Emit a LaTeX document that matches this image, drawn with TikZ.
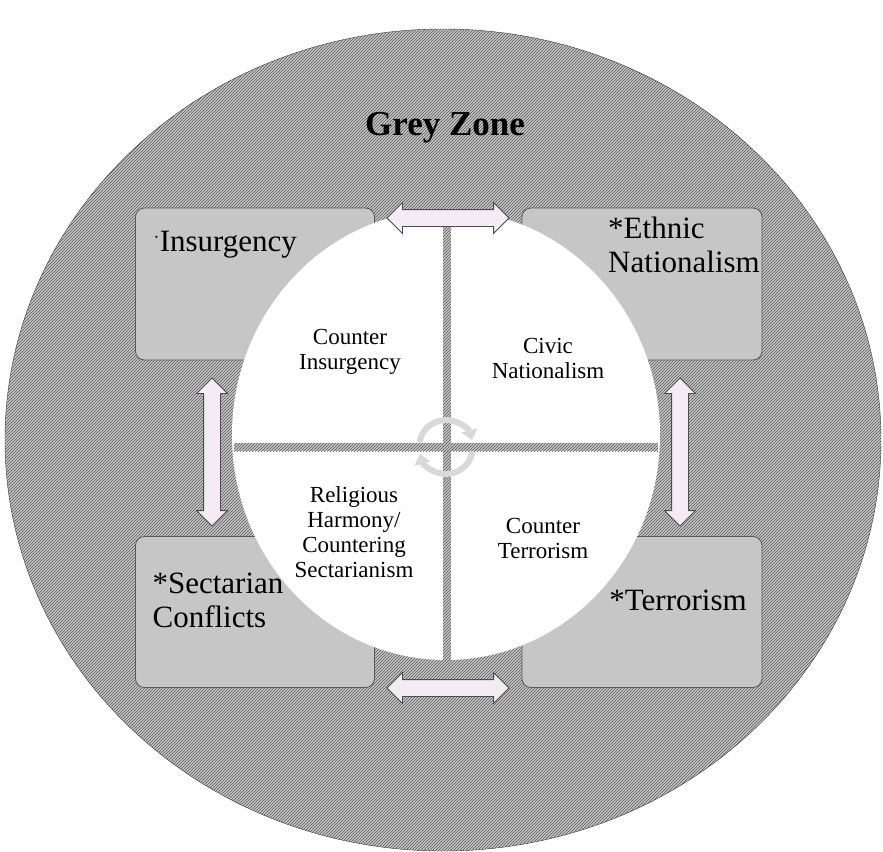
\documentclass[tikz,border=0pt]{standalone}
\usepackage{fontspec}
\setmainfont{Liberation Serif}
\usetikzlibrary{patterns,shapes.arrows,arrows.meta}
\tikzset{
 hatch/.style={fill=gray!45,postaction={pattern=north east lines,pattern color=black!65}},
 outerbox/.style={draw=gray!70!black,fill=gray!45,rounded corners=9pt,line width=0.8pt},
 dbl/.style={draw=gray!60!black,fill=violet!8,line width=0.8pt,double arrow,double arrow head extend=7pt,inner sep=8pt},
 bigtxt/.style={font=\fontsize{31}{34}\selectfont,align=left},
 smalltxt/.style={font=\fontsize{23}{25}\selectfont,align=center},
 rot/.style={line width=6pt,-{Triangle[length=10pt,width=16pt]},line cap=butt,color=gray!30}
}
\begin{document}
\begin{tikzpicture}[x=1pt,y=-1pt]
\useasboundingbox (0,0) rectangle (883,851);
\path[hatch,draw=gray!40!black] (443,440) ellipse [x radius=438, y radius=411];
\node[font=\bfseries\fontsize{35}{37}\selectfont] (gz) at (445,128) {Grey Zone};
% boxes
\node[outerbox,minimum width=239pt,minimum height=152pt] (b1) at (255,284) {};
\node[outerbox,minimum width=240pt,minimum height=152pt] (b2) at (642,284) {};
\node[outerbox,minimum width=239pt,minimum height=151pt] (b3) at (255,612) {};
\node[outerbox,minimum width=240pt,minimum height=151pt] (b4) at (642,612) {};
% inner circle
\path[fill=white] (446,435) ellipse [x radius=214, y radius=225];
\path[hatch] (443,210) rectangle (451,660);
\path[hatch] (234,443) rectangle (658,451);
% double arrows
\node[dbl,minimum height=122pt] (a1) at (448,218) {};
\node[dbl,minimum height=122pt] (a2) at (448,688) {};
\node[dbl,minimum height=148pt,rotate=90] (a3) at (212,452) {};
\node[dbl,minimum height=148pt,rotate=90] (a4) at (680,452) {};
% rotation arrows
\coordinate (c) at (446,447);
\draw[rot] ([shift={(190:27)}]c) arc[start angle=190,end angle=345,radius=27];
\draw[rot] ([shift={(10:27)}]c) arc[start angle=10,end angle=165,radius=27];
% texts
\node[bigtxt,anchor=west] (t1) at (150,245) {$^{\cdot}$Insurgency};
\node[bigtxt] (t2) at (684,245) {*Ethnic\\Nationalism};
\node[bigtxt] (t3) at (218,600) {*Sectarian\\Conflicts};
\node[bigtxt] (t4) at (678,600) {*Terrorism};
\node[smalltxt] (s1) at (350,352) {Counter\\Insurgency};
\node[smalltxt] (s2) at (548,358) {Civic\\Nationalism};
\node[smalltxt] (s3) at (354,532) {Religious\\Harmony/\\Countering\\Sectarianism};
\node[smalltxt] (s4) at (543,538) {Counter\\Terrorism};
\end{tikzpicture}
\end{document}
